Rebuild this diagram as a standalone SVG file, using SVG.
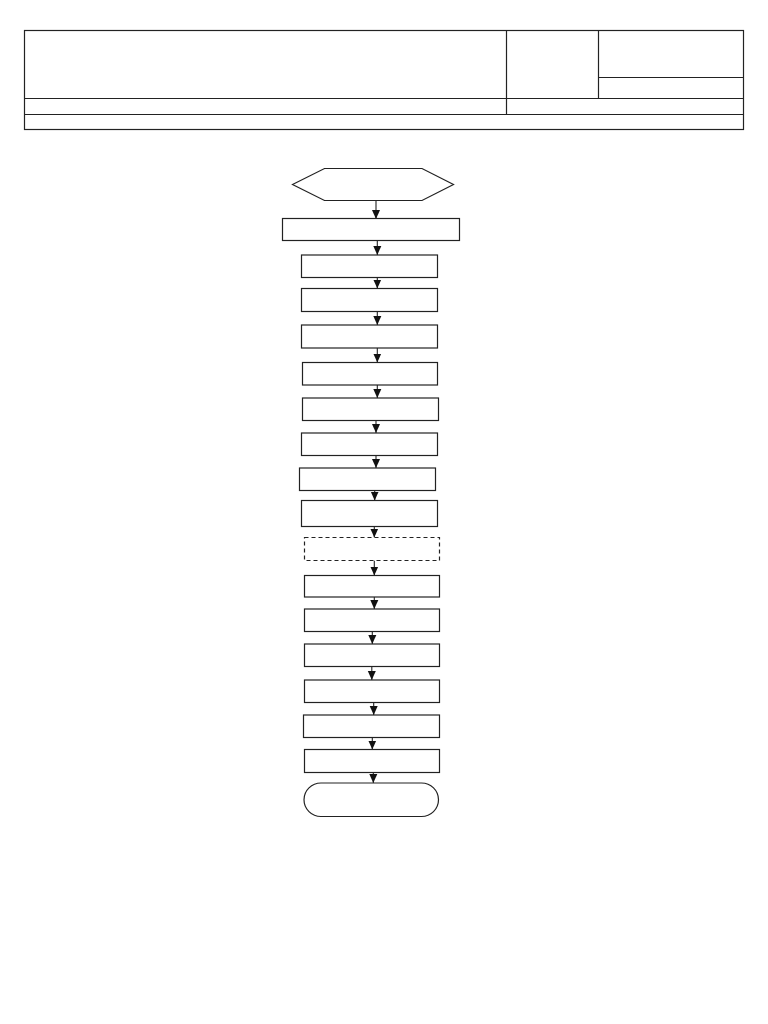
<svg xmlns="http://www.w3.org/2000/svg" width="768" height="1024" viewBox="0 0 768 1024">
<style>
.ln{fill:none;stroke:#222;stroke-width:1.2}
.box{fill:#fff;stroke:#222;stroke-width:1.2}
.dash{fill:#fff;stroke:#222;stroke-width:1.2;stroke-dasharray:4 3}
.cn{fill:none;stroke:#222;stroke-width:1.1;marker-end:url(#ah)}
</style>
<defs>
<marker id="ah" markerWidth="10" markerHeight="9" refX="9" refY="4.5" orient="auto" markerUnits="userSpaceOnUse">
<path d="M0,0.5 L9,4.5 L0,8.5 Z" fill="#111"/>
</marker>
</defs>
<rect width="768" height="1024" fill="#fff"/>
<g id="header">
<rect class="ln" x="24.5" y="30.5" width="719" height="99"/>
<line class="ln" x1="24.5" y1="98.5" x2="743.5" y2="98.5"/>
<line class="ln" x1="24.5" y1="114.5" x2="743.5" y2="114.5"/>
<line class="ln" x1="506.5" y1="30.5" x2="506.5" y2="114.5"/>
<line class="ln" x1="598.5" y1="30.5" x2="598.5" y2="98.5"/>
<line class="ln" x1="598.5" y1="77.5" x2="743.5" y2="77.5"/>
</g>
<g id="connectors">
<line class="cn" x1="376" y1="201" x2="376" y2="219"/>
<line class="cn" x1="377.3" y1="240.5" x2="377.3" y2="255"/>
<line class="cn" x1="377.3" y1="277.5" x2="377.3" y2="288.5"/>
<line class="cn" x1="377.3" y1="311.5" x2="377.3" y2="325"/>
<line class="cn" x1="377.3" y1="348" x2="377.3" y2="362.5"/>
<line class="cn" x1="377.3" y1="385" x2="377.3" y2="398"/>
<line class="cn" x1="376" y1="420.5" x2="376" y2="433"/>
<line class="cn" x1="376" y1="455.5" x2="376" y2="468"/>
<line class="cn" x1="374.7" y1="490.5" x2="374.7" y2="500.5"/>
<line class="cn" x1="374.3" y1="526.5" x2="374.3" y2="537.5"/>
<line class="cn" x1="374.3" y1="560.5" x2="374.3" y2="575.5"/>
<line class="cn" x1="374.3" y1="597" x2="374.3" y2="609"/>
<line class="cn" x1="372.3" y1="631.5" x2="372.3" y2="644"/>
<line class="cn" x1="371.8" y1="666.5" x2="371.8" y2="680"/>
<line class="cn" x1="373.7" y1="702.5" x2="373.7" y2="715"/>
<line class="cn" x1="372.3" y1="737.5" x2="372.3" y2="749.5"/>
<line class="cn" x1="373.3" y1="772.5" x2="373.3" y2="783"/>
</g>
<g id="n0"><polygon class="box" points="292.5,184.5 324.5,168.5 422,168.5 453.5,184.5 422,200.5 324.5,200.5"/></g>
<g id="n1"><rect class="box" x="282.5" y="218.5" width="177" height="22"/></g>
<g id="n2"><rect class="box" x="301.5" y="255" width="136" height="22.5"/></g>
<g id="n3"><rect class="box" x="301.5" y="288.5" width="136" height="23"/></g>
<g id="n4"><rect class="box" x="301.5" y="325" width="136" height="23"/></g>
<g id="n5"><rect class="box" x="302.5" y="362.5" width="135" height="22.5"/></g>
<g id="n6"><rect class="box" x="302.5" y="398" width="136" height="22.5"/></g>
<g id="n7"><rect class="box" x="301.5" y="433" width="136" height="22.5"/></g>
<g id="n8"><rect class="box" x="299.5" y="468" width="136" height="22.5"/></g>
<g id="n9"><rect class="box" x="301.5" y="500.5" width="136" height="26"/></g>
<g id="n10"><rect class="dash" x="304.5" y="537.5" width="135" height="23"/></g>
<g id="n11"><rect class="box" x="304.5" y="575.5" width="135" height="21.5"/></g>
<g id="n12"><rect class="box" x="304.5" y="609" width="135" height="22.5"/></g>
<g id="n13"><rect class="box" x="304.5" y="644" width="135" height="22.5"/></g>
<g id="n14"><rect class="box" x="304.5" y="680" width="135" height="22.5"/></g>
<g id="n15"><rect class="box" x="303.5" y="715" width="136" height="22.5"/></g>
<g id="n16"><rect class="box" x="304.5" y="749.5" width="135" height="23"/></g>
<g id="n17"><rect class="box" x="304" y="783" width="134.5" height="33.5" rx="17" ry="16.75"/></g>
</svg>
